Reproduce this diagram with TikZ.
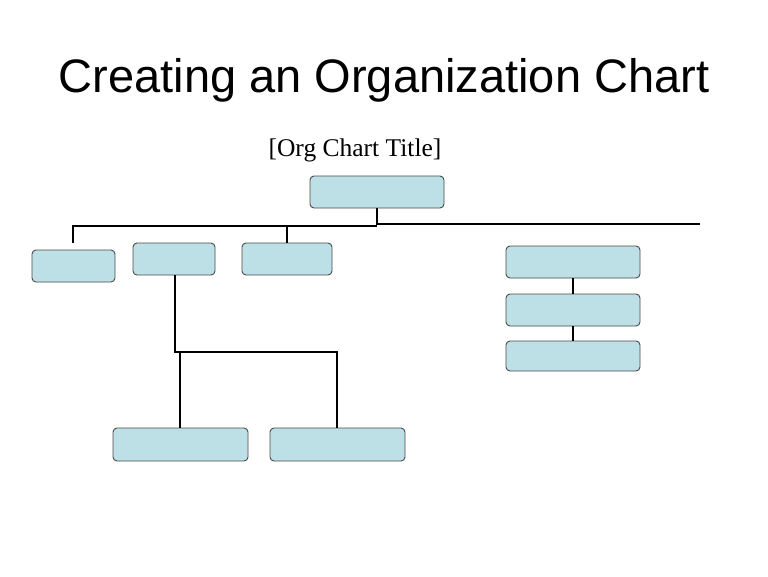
\documentclass[tikz,border=0pt]{standalone}
\usepackage{fontspec}
\setmainfont{Liberation Serif}
\newfontfamily\arialf{Liberation Sans}
\definecolor{boxfill}{HTML}{BCE0E5}
\definecolor{boxline}{HTML}{4A4A4A}
\begin{document}
\begin{tikzpicture}[x=1pt,y=-1pt,
  orgbox/.style={draw=boxline,fill=boxfill,rounded corners=4pt,line width=0.9pt,inner sep=0pt,minimum height=32pt},
  conn/.style={draw=black,line width=1.3pt},
  thick conn/.style={draw=black,line width=2.2pt}]
\useasboundingbox (0,0) rectangle (768,576);
\node[font=\arialf\fontsize{47}{56}\selectfont,anchor=center] (title) at (384,80) {Creating an Organization Chart};
\node[font=\fontsize{25.5}{30}\selectfont,anchor=center] (ctitle) at (355,150) {[Org Chart Title]};
% boxes
\node[orgbox,minimum width=134pt] (top) at (377,192) {};
\node[orgbox,minimum width=83pt] (a) at (73.5,266) {};
\node[orgbox,minimum width=82pt] (b) at (174,259) {};
\node[orgbox,minimum width=90pt] (c) at (287,259) {};
\node[orgbox,minimum width=134pt] (r1) at (573,262) {};
\node[orgbox,minimum width=134pt] (r2) at (573,310) {};
\node[orgbox,minimum width=134pt,minimum height=30pt] (r3) at (573,356) {};
\node[orgbox,minimum width=135pt,minimum height=33pt] (d) at (180.5,444.5) {};
\node[orgbox,minimum width=135pt,minimum height=33pt] (e) at (337.5,444.5) {};
% connector points
\coordinate (j1) at (377,226);
\coordinate (l1) at (73,226);
\coordinate (l1b) at (73,243);
\coordinate (m3) at (287,226);
\coordinate (rend) at (700,224);
\coordinate (b2j) at (175,352);
\coordinate (b3j) at (337,352);
\coordinate (b1j) at (180,352);
\draw[conn] (top.south) -- (377,225);
\draw[thick conn] (l1b) -- (l1) -- (j1);
\draw[conn] (377,224) -- (rend);
\draw[conn] (m3) -- (c.north);
\draw[conn] (b.south -| b2j) -- (b2j) -- (b3j) -- (b3j |- e.north);
\draw[thick conn] (b1j) -- (b1j |- d.north);
\draw[conn] (r1.south) -- (r2.north);
\draw[conn] (r2.south) -- (r3.north);
\end{tikzpicture}
\end{document}
